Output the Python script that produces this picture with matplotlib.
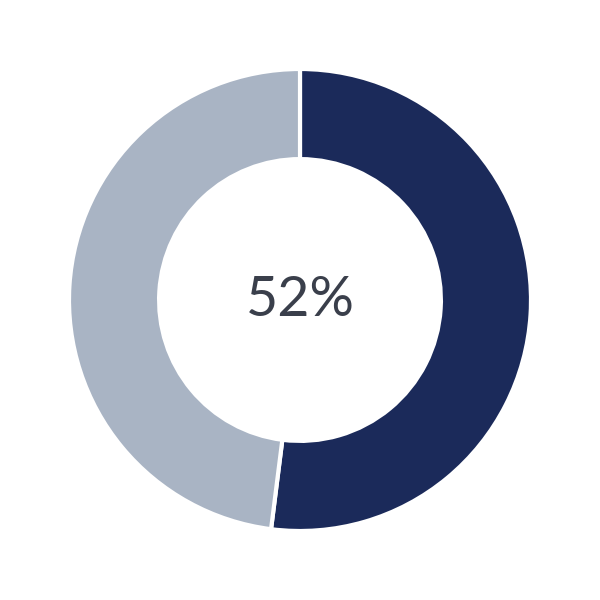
import matplotlib
matplotlib.use("Agg")
import matplotlib.pyplot as plt

labels = ["Yes", "No"]
values = [52, 48]
colors = ["#1b2a5a", "#a9b4c4"]
center_label = "52%"

fig = plt.figure(figsize=(6, 6), dpi=100)
ax = fig.add_axes([0, 0, 1, 1])

ax.pie(values, colors=colors, startangle=90, counterclock=False,
       radius=1.0, wedgeprops=dict(width=0.39, edgecolor="white", linewidth=3))
ax.text(0, 0.0, center_label, ha="center", va="center",
        fontsize=40, color="#3a3f4b", family="Lato", fontweight="normal")

lim = 300 / 231
ax.set_xlim(-lim, lim)
ax.set_ylim(-lim, lim)
ax.set_aspect("equal")
ax.axis("off")

fig.savefig("out.png", dpi=100, facecolor="white")
